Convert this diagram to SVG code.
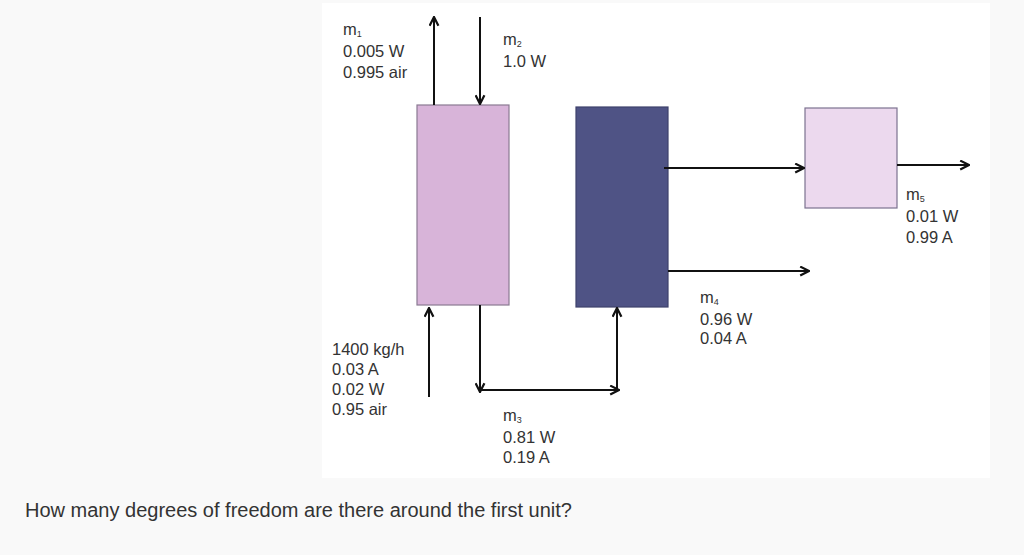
<svg xmlns="http://www.w3.org/2000/svg" width="1024" height="555" viewBox="0 0 1024 555">
<defs>
<marker id="ah" viewBox="0 0 10 10" refX="9" refY="5" markerWidth="11" markerHeight="11" markerUnits="userSpaceOnUse" orient="auto">
<path d="M1,1 L9,5 L1,9" fill="none" stroke="#111" stroke-width="2"/>
</marker>
<style>
.ln{stroke:#111;stroke-width:2;fill:none}
.lb{font-family:"Liberation Sans",Arial,sans-serif;font-size:16.5px;fill:#333}
.sb{font-size:9px}
.q{font-family:"Liberation Sans",Arial,sans-serif;font-size:20px;fill:#333}
</style>
</defs>
<rect x="0" y="0" width="1024" height="555" fill="#f9f9f9"/>
<rect x="322" y="3" width="668" height="475" fill="#ffffff"/>
<g id="unit1"><rect x="417" y="105" width="92" height="200" fill="#d8b4d9" stroke="#8a7a92" stroke-width="1.2"/></g>
<g id="unit2"><rect x="576" y="107" width="92" height="200" fill="#4f5385" stroke="#3e416c" stroke-width="1.2"/></g>
<g id="unit3"><rect x="805" y="108" width="92" height="100" fill="#ecd9ee" stroke="#7c7290" stroke-width="1.2"/></g>
<g id="connectors">
<line class="ln" x1="434" y1="105" x2="434" y2="17" marker-end="url(#ah)"/>
<line class="ln" x1="480" y1="17" x2="480" y2="104" marker-end="url(#ah)"/>
<line class="ln" x1="429" y1="397" x2="429" y2="308" marker-end="url(#ah)"/>
<line class="ln" x1="480" y1="305" x2="480" y2="392" marker-end="url(#ah)"/>
<line class="ln" x1="480" y1="390" x2="619" y2="390" marker-end="url(#ah)"/>
<line class="ln" x1="617" y1="390" x2="617" y2="308" marker-end="url(#ah)"/>
<line class="ln" x1="664" y1="168" x2="804" y2="168" marker-end="url(#ah)"/>
<line class="ln" x1="897" y1="165" x2="969" y2="165" marker-end="url(#ah)"/>
<line class="ln" x1="668" y1="271" x2="809" y2="271" marker-end="url(#ah)"/>
</g>
<g id="labels">
<text class="lb" x="343" y="35">m<tspan class="sb" dy="2">1</tspan></text>
<text class="lb" x="343" y="57">0.005 W</text>
<text class="lb" x="343" y="78">0.995 air</text>
<text class="lb" x="503" y="45">m<tspan class="sb" dy="2">2</tspan></text>
<text class="lb" x="503" y="67">1.0 W</text>
<text class="lb" x="332" y="355">1400 kg/h</text>
<text class="lb" x="332" y="375">0.03 A</text>
<text class="lb" x="332" y="395">0.02 W</text>
<text class="lb" x="332" y="415">0.95 air</text>
<text class="lb" x="503" y="421">m<tspan class="sb" dy="2">3</tspan></text>
<text class="lb" x="503" y="443">0.81 W</text>
<text class="lb" x="503" y="463">0.19 A</text>
<text class="lb" x="700" y="303">m<tspan class="sb" dy="2">4</tspan></text>
<text class="lb" x="700" y="325">0.96 W</text>
<text class="lb" x="700" y="344">0.04 A</text>
<text class="lb" x="906" y="200">m<tspan class="sb" dy="2">5</tspan></text>
<text class="lb" x="906" y="222">0.01 W</text>
<text class="lb" x="906" y="243">0.99 A</text>
<text class="q" x="25" y="517">How many degrees of freedom are there around the first unit?</text>
</g>
</svg>
